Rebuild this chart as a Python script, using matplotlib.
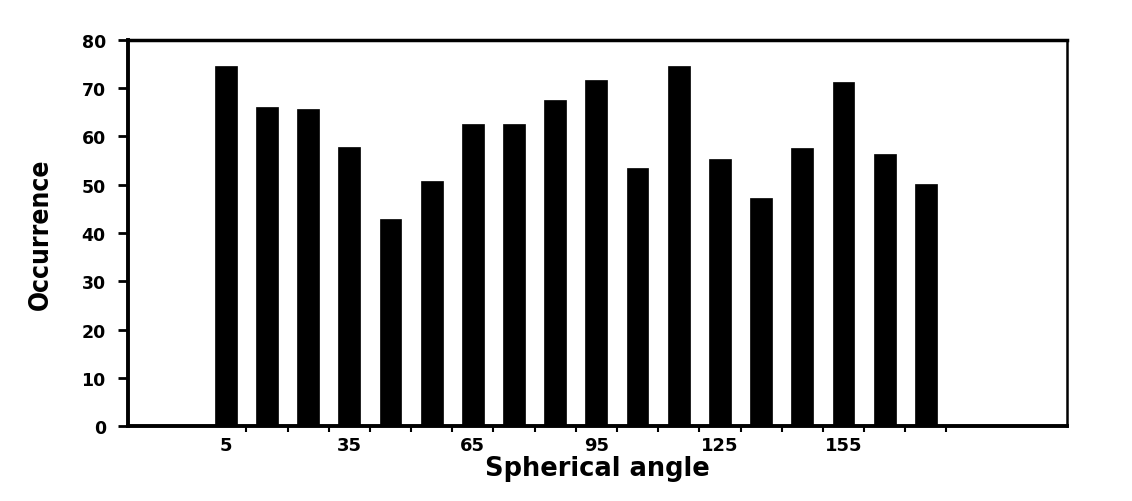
import numpy as np
import matplotlib
matplotlib.use('Agg')
import matplotlib.pyplot as plt
from matplotlib.ticker import FixedLocator

# bin centres (degrees) and counts
angles = np.arange(5, 180, 10)
counts = [74.5, 66.0, 65.7, 57.8, 42.8, 50.8, 62.6, 62.6, 67.5,
          71.6, 53.4, 74.5, 55.4, 47.3, 57.5, 71.3, 56.4, 50.2]
label_ticks = [5, 35, 65, 95, 125, 155]
edge_ticks = list(range(10, 190, 10))
y_ticks = list(range(0, 90, 10))

fig = plt.figure(figsize=(11.32, 5.02), dpi=100)
ax = fig.add_axes([0.1131, 0.1488, 0.8295, 0.7701])

ax.bar(angles, counts, width=5.3, color='black', edgecolor='black', linewidth=0.5)

ax.set_xlim(-18.75, 209.3)
ax.set_ylim(0, 80)

ax.xaxis.set_major_locator(FixedLocator(label_ticks))
ax.xaxis.set_minor_locator(FixedLocator(edge_ticks))
ax.set_yticks(y_ticks)
ax.tick_params(axis='x', which='major', length=0, pad=7, labelsize=13)
ax.tick_params(axis='x', which='minor', length=4, width=1.5, direction='out')
ax.tick_params(axis='y', which='major', length=7, width=2, direction='out', pad=9, labelsize=12.5)
for lab in ax.get_xticklabels() + ax.get_yticklabels():
    lab.set_fontweight('bold')

for side, lw in (('left', 2.8), ('bottom', 2.8), ('top', 2.5), ('right', 1.8)):
    ax.spines[side].set_linewidth(lw)
    ax.spines[side].set_color('black')

ax.set_xlabel('Spherical angle', fontsize=18.5, fontweight='bold', labelpad=1)
ax.set_ylabel('Occurrence', fontsize=19, fontweight='bold', fontstretch='condensed',
              family='DejaVu Sans', labelpad=20)

fig.savefig('out.png', dpi=100, facecolor='white')
